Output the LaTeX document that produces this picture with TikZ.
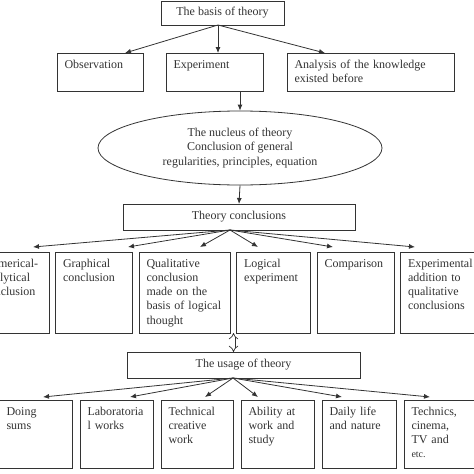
\documentclass[tikz,border=0pt]{standalone}
\usepackage{fontspec}
\setmainfont{Liberation Serif}
\usetikzlibrary{calc,
shapes.geometric,
arrows.meta,
positioning}

\begin{document}
\begin{tikzpicture} [x=1pt, y=-1pt,
    >={Latex[length=6pt, width=5pt]},
    line width=0.8pt,
    color=black!80,
    every node/.style={font=\fontsize{12pt}{14.3pt}\selectfont},
    main node/.style={rectangle, draw, align=center,
        inner sep=0pt, outer sep=0pt},
    item node/.style={rectangle, draw, align=left, outer sep=0pt,
        inner xsep=7.5pt, inner ysep=5pt, text height=10pt},
    top row/.style={item node, text depth=18pt},
    mid row/.style={item node, text depth=61pt},
    low row/.style={item node, text depth=48pt},
    link/.style={double, double distance=2.6pt, line width=0.7pt,
        {Implies[length=4pt]}-{Implies[length=4pt]}}
  ]

  \useasboundingbox (0, 0) rectangle (474, 474);
  \clip (0, 0) rectangle (474, 474);

  \node [main node,
    minimum width = 123pt,
    minimum height = 24pt
  ] (basis) at (222.5, 13) {The basis of theory};

  \node [top row,
    text width = 71pt,
    anchor = north west
  ] (obs) at (57, 53) {Observation};

  \node [top row,
    text width = 82pt,
    right = 23pt of obs
  ] (exper) {Experiment};

  \node [top row,
    text width = 152pt,
    right = 24pt of exper
  ] (anal) {Analysis of the knowledge\\existed before};

  \node [ellipse,
    draw,
    align = center,
    inner sep = 0pt,
    minimum width = 284pt,
    minimum height = 74pt
  ] (nucleus) at (240, 148) {The nucleus of theory\\Conclusion of general\\regularities, principles, equation};

  \node [main node,
    minimum width = 232pt,
    minimum height = 26pt
  ] (concl) at (239, 217) {Theory conclusions};

  %%%%%%%%%%%%%%%%%%%%%%%%%%%%%%

  \node [mid row,
    text width = 58pt,
    anchor = north west
  ] (numer) at (-24, 252) {Numerical-\\analytical\\conclusion};

  \node [mid row,
    text width = 62pt,
    right = 6.5pt of numer
  ] (graph) {Graphical\\conclusion};

  \node [mid row,
    text width = 76pt,
    right = 6.5pt of graph
  ] (qual) {Qualitative\\conclusion\\made on the\\basis of logical\\thought};

  \node [mid row,
    text width = 59pt,
    right = 6.5pt of qual
  ] (logic) {Logical\\experiment};

  \node [mid row,
    text width = 62pt,
    right = 6.5pt of logic
  ] (compar) {Comparison};

  \node [mid row,
    text width = 64pt,
    right = 6.5pt of compar
  ] (addit) {Experimental\\addition to\\qualitative\\conclusions};

  %%%%%%%%%%%%%%%%%%%%%%%%%%%%%%

  \node [main node,
    minimum width = 233pt,
    minimum height = 26pt
  ] (usage) at (243.5, 365) {The usage of theory};

  \node [low row,
    text width = 58pt,
    anchor = north west
  ] (sums) at (-1, 400) {Doing\\sums};

  \node [low row,
    text width = 58pt,
    right = 8pt of sums
  ] (labor) {Laboratoria\\l works};

  \node [low row,
    text width = 57pt,
    right = 8pt of labor
  ] (techn) {Technical\\creative\\work};

  \node [low row,
    text width = 58pt,
    right = 8pt of techn
  ] (abil) {Ability at\\work and\\study};

  \node [low row,
    text width = 59pt,
    right = 8pt of abil
  ] (daily) {Daily life\\and nature};

  \node [low row,
    text width = 59pt,
    right = 8pt of daily
  ] (media) {Technics,\\cinema,\\TV and\\{\fontsize{10pt}{12pt}\selectfont etc.}};

  %%%%%%%%%%%%%%%%%%%%%%%%%%%%%%

  \draw [->] ([xshift=-4.5pt]basis.south) -- ([xshift=25pt]obs.north);
  \draw [->] ([xshift=-4.5pt]basis.south) -- ([xshift=3.5pt]exper.north);
  \draw [->] ([xshift=-4.5pt]basis.south) -- ([xshift=-45.5pt]anal.north);
  \draw [->] (exper.south -| nucleus.north) -- (nucleus.north);
  \draw [->] (nucleus.south) -- (concl.north);

  \draw [->] ([xshift=-9pt]concl.south) -- ([xshift=20.5pt, yshift=5pt]numer.north);
  \draw [->] ([xshift=-9pt]concl.south) -- ([xshift=34pt, yshift=5pt]graph.north);
  \draw [->] ([xshift=-9pt]concl.south) -- ([xshift=15.5pt, yshift=5pt]qual.north);
  \draw [->] ([xshift=-9pt]concl.south) -- ([xshift=-15.5pt, yshift=5pt]logic.north);
  \draw [->] ([xshift=-9pt]concl.south) -- ([xshift=-22.5pt, yshift=5pt]compar.north);
  \draw [->] ([xshift=-9pt]concl.south) -- ([xshift=-25pt, yshift=5pt]addit.north);

  \draw [link] ([xshift=-10pt]usage.north) -- ([xshift=-10pt]usage.north |- qual.south);

  \draw [->] ([xshift=-10.5pt]usage.south) -- ([xshift=7.5pt, yshift=3pt]sums.north);
  \draw [->] ([xshift=-10.5pt]usage.south) -- ([xshift=13.5pt, yshift=3pt]labor.north);
  \draw [->] ([xshift=-10.5pt]usage.south) -- ([xshift=8pt, yshift=3pt]techn.north);
  \draw [->] ([xshift=-10.5pt]usage.south) -- ([xshift=-19.5pt, yshift=3pt]abil.north);
  \draw [->] ([xshift=-10.5pt]usage.south) -- ([xshift=-17pt, yshift=3pt]daily.north);
  \draw [->] ([xshift=-10.5pt]usage.south) -- ([xshift=-11pt, yshift=3pt]media.north);

\end{tikzpicture}
\end{document}
